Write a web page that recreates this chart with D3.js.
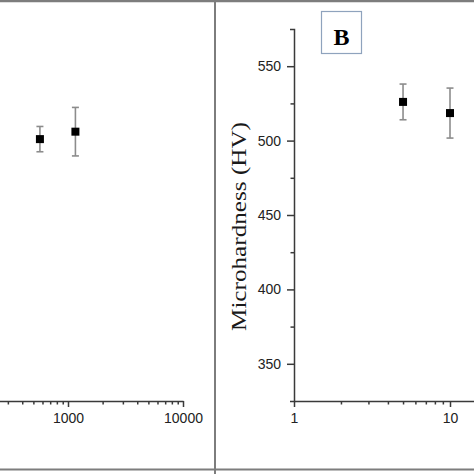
<!DOCTYPE html>
<html>
<head>
<meta charset="utf-8">
<script src="https://cdn.jsdelivr.net/npm/d3@7"></script>
<style>
  body { margin: 0; background: #fff; }
  .axis path, .axis line { stroke: #3a3a3a; stroke-width: 1.5; }
</style>
</head>
<body>
<div id="chart"></div>
<script>
// Data
var leftCycles = [570, 1160];        // panel A (x), cut off on the left
var leftHardness = [501, 506];
var leftSD = [8.5, 16.3];

var rightX = [5, 10];                // panel B
var rightHardness = [526, 518.5];
var rightSD = [12, 16.8];

var yTicks = [350, 400, 450, 500, 550];
var yMinor = [375, 425, 475, 525];

var svgWidth = 474, svgHeight = 474;

var svg = d3.select("#chart").append("svg")
  .attr("width", svgWidth)
  .attr("height", svgHeight);

// shared y scale (both panels drawn at the same size)
var yScale = d3.scaleLinear().domain([325, 575]).range([401, 29]);

// log tick values 1..9 x 10^k
function logTicks(lo, hi) {
  var out = [];
  for (var p = lo; p < hi; p *= 10) {
    for (var m = 1; m < 10; m++) out.push(p * m);
  }
  out.push(hi);
  return out;
}
function isMajor(v) {
  var l = Math.log10(v);
  return Math.abs(l - Math.round(l)) < 1e-9;
}

function styleLabels(g) {
  g.selectAll(".tick text")
    .style("font-family", "'Liberation Sans', Arial, sans-serif")
    .style("font-size", "14px")
    .style("fill", "#222");
  // drop empty labels of minor ticks
  g.selectAll(".tick text").filter(function() { return this.textContent === ""; }).remove();
}

function drawXAxis(g, scale, lo, hi) {
  var axis = d3.axisBottom(scale)
    .tickValues(logTicks(lo, hi))
    .tickFormat(d => isMajor(d) ? d3.format("d")(d) : "")
    .tickSize(6)
    .tickSizeOuter(0)
    .tickPadding(6);
  g.attr("class", "axis").call(axis);
  g.selectAll(".tick line").attr("y2", d => isMajor(d) ? 6 : 3.5);
  styleLabels(g);
  // labels falling outside the cropped view are not shown in the figure
  g.selectAll(".tick text").filter(d => scale(d) < 10 || scale(d) > svgWidth - 10).remove();
}

function drawPoints(g, xs, scale, ys, sds) {
  var pts = xs.map((x, i) => ({x: x, y: ys[i], sd: sds[i]}));
  var bars = g.selectAll(".err").data(pts).enter().append("g").attr("class", "err")
    .attr("stroke", "#8c8c8c").attr("stroke-width", 1.6);
  bars.append("line")
    .attr("x1", d => scale(d.x)).attr("x2", d => scale(d.x))
    .attr("y1", d => yScale(d.y + d.sd)).attr("y2", d => yScale(d.y - d.sd));
  bars.append("line")
    .attr("x1", d => scale(d.x) - 3.5).attr("x2", d => scale(d.x) + 3.5)
    .attr("y1", d => yScale(d.y + d.sd)).attr("y2", d => yScale(d.y + d.sd));
  bars.append("line")
    .attr("x1", d => scale(d.x) - 3.5).attr("x2", d => scale(d.x) + 3.5)
    .attr("y1", d => yScale(d.y - d.sd)).attr("y2", d => yScale(d.y - d.sd));
  g.selectAll(".pt").data(pts).enter().append("rect")
    .attr("class", "pt")
    .attr("x", d => scale(d.x) - 4)
    .attr("y", d => yScale(d.y) - 4)
    .attr("width", 8).attr("height", 8)
    .attr("fill", "#000");
}

// ---- Panel A (left, mostly cropped) ----
var xLeft = d3.scaleLog().domain([100, 10000]).range([-47, 183]);
var panelA = svg.append("g");
drawXAxis(panelA.append("g").attr("transform", "translate(0,401)"), xLeft, 100, 10000);
drawPoints(panelA, leftCycles, xLeft, leftHardness, leftSD);

// ---- Panel B (right) ----
var xRight = d3.scaleLog().domain([1, 100]).range([294, 606]);
var panelB = svg.append("g");

var yAxis = d3.axisLeft(yScale)
  .tickValues(yTicks.concat(yMinor))
  .tickFormat(d => yTicks.indexOf(d) >= 0 ? d : "")
  .tickSize(7)
  .tickSizeOuter(4)
  .tickPadding(6);
var yG = panelB.append("g").attr("class", "axis")
  .attr("transform", "translate(294,0)")
  .call(yAxis);
yG.selectAll(".tick line").attr("x2", d => yTicks.indexOf(d) >= 0 ? -7 : -3.5);
styleLabels(yG);

drawXAxis(panelB.append("g").attr("transform", "translate(0,401)"), xRight, 1, 100);
drawPoints(panelB, rightX, xRight, rightHardness, rightSD);

panelB.append("text")
  .attr("transform", "translate(246,226.5) rotate(-90)")
  .attr("text-anchor", "middle")
  .attr("textLength", 209)
  .attr("lengthAdjust", "spacingAndGlyphs")
  .style("font-family", "'Liberation Serif', 'Times New Roman', serif")
  .style("font-size", "22px")
  .style("fill", "#1a1a1a")
  .text("Microhardness (HV)");

// panel tag "B"
panelB.append("rect")
  .attr("x", 321.5).attr("y", 11.5).attr("width", 40).attr("height", 42)
  .attr("fill", "#fff").attr("stroke", "#8fa3bd").attr("stroke-width", 1.2);
panelB.append("text")
  .attr("x", 341.5).attr("y", 45)
  .attr("text-anchor", "middle")
  .style("font-family", "'Liberation Serif', 'Times New Roman', serif")
  .style("font-weight", "bold")
  .style("font-size", "24px")
  .text("B");

// frame lines between panels
svg.append("line").attr("x1", 0).attr("x2", svgWidth).attr("y1", 1).attr("y2", 1)
  .attr("stroke", "#7d7d7d").attr("stroke-width", 2.5);
svg.append("line").attr("x1", 0).attr("x2", svgWidth).attr("y1", 469.5).attr("y2", 469.5)
  .attr("stroke", "#7d7d7d").attr("stroke-width", 2);
svg.append("line").attr("x1", 215).attr("x2", 215).attr("y1", 0).attr("y2", svgHeight)
  .attr("stroke", "#7d7d7d").attr("stroke-width", 2);
</script>
</body>
</html>
